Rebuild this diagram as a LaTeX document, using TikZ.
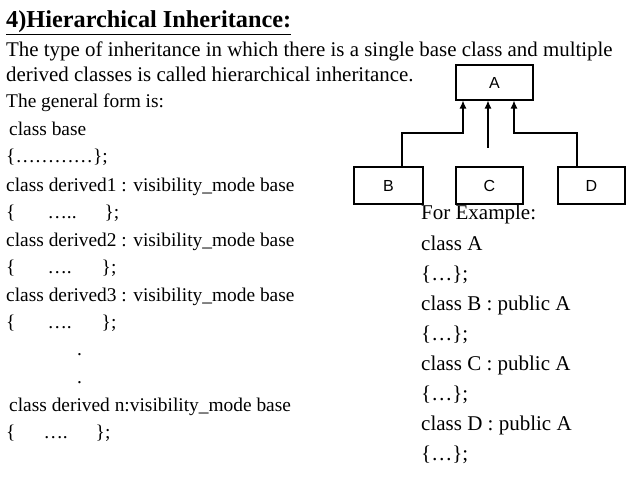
\documentclass[tikz,border=0pt]{standalone}
\usepackage{fontspec}
\setmainfont{Liberation Serif}
\newfontfamily\boxfont{Liberation Sans}
\usetikzlibrary{arrows.meta}
\begin{document}
\begin{tikzpicture}[x=1pt,y=-1pt,
  txt/.style={anchor=base west,inner sep=0pt,font=\fontsize{19.4}{19}\selectfont},
  rtxt/.style={anchor=base west,inner sep=0pt,font=\fontsize{21}{21}\selectfont},
  cls/.style={draw,line width=1.1pt,font=\boxfont\fontsize{16}{16}\selectfont},
  inh/.style={line width=1.1pt,-{Latex[length=8pt,width=7pt]}}]
\useasboundingbox (0,0) rectangle (638,478);
\node[anchor=base west,inner sep=0pt,font=\fontsize{24.3}{24}\selectfont\bfseries] (t) at (6,28) {\underline{4)Hierarchical Inheritance:}};
\node[txt,font=\fontsize{20.9}{21}\selectfont] (l1) at (6,57) {The type of inheritance in which there is a single base class and multiple};
\node[txt,font=\fontsize{20.9}{21}\selectfont] (l2) at (6,82) {derived classes is called hierarchical inheritance.};
\node[txt] (g) at (6,108) {The general form is:};
\node[txt] (c0) at (9,136) {class base};
\node[txt] (c1) at (6,163) {\{…………\};};
\node[txt] (c2) at (6,192) {class derived1 : visibility\_mode base};
\node[txt] (c3) at (6,219) {\{\hspace{32pt}…..\hspace{28pt}\};};
\node[txt] (c4) at (6,247) {class derived2 : visibility\_mode base};
\node[txt] (c5) at (6,274) {\{\hspace{32pt}….\hspace{30pt}\};};
\node[txt] (c6) at (6,302) {class derived3 : visibility\_mode base};
\node[txt] (c7) at (6,329) {\{\hspace{32pt}….\hspace{30pt}\};};
\node[txt] (d1) at (77,356) {.};
\node[txt] (d2) at (77,384) {.};
\node[txt] (c8) at (9,412) {class derived n:visibility\_mode base};
\node[txt] (c9) at (6,439) {\{\hspace{28pt}….\hspace{28pt}\};};
\node[rtxt] (r0) at (421,220) {For Example:};
\node[rtxt] (r1) at (421,251) {class A};
\node[rtxt] (r2) at (421,281) {\{…\};};
\node[rtxt] (r3) at (421,311) {class B : public A};
\node[rtxt] (r4) at (421,341) {\{…\};};
\node[rtxt] (r5) at (421,371) {class C : public A};
\node[rtxt] (r6) at (421,401) {\{…\};};
\node[rtxt] (r7) at (421,431) {class D : public A};
\node[rtxt] (r8) at (421,461) {\{…\};};
\node[cls,minimum width=77pt,minimum height=35pt] (A) at (494.5,82.5) {A};
\node[cls,minimum width=69pt,minimum height=37pt] (B) at (388.5,185.5) {B};
\node[cls,minimum width=67pt,minimum height=37pt] (C) at (489.5,185.5) {C};
\node[cls,minimum width=67pt,minimum height=37pt] (D) at (591.5,185.5) {D};
\coordinate (cs) at (488,148);
\draw[inh] (B.north -| 402,0) |- (463,133) -- (463,0 |- A.south);
\draw[inh] (cs) -- (488,0 |- A.south);
\draw[inh] (D.north -| 577,0) |- (514,133) -- (514,0 |- A.south);
\end{tikzpicture}
\end{document}
